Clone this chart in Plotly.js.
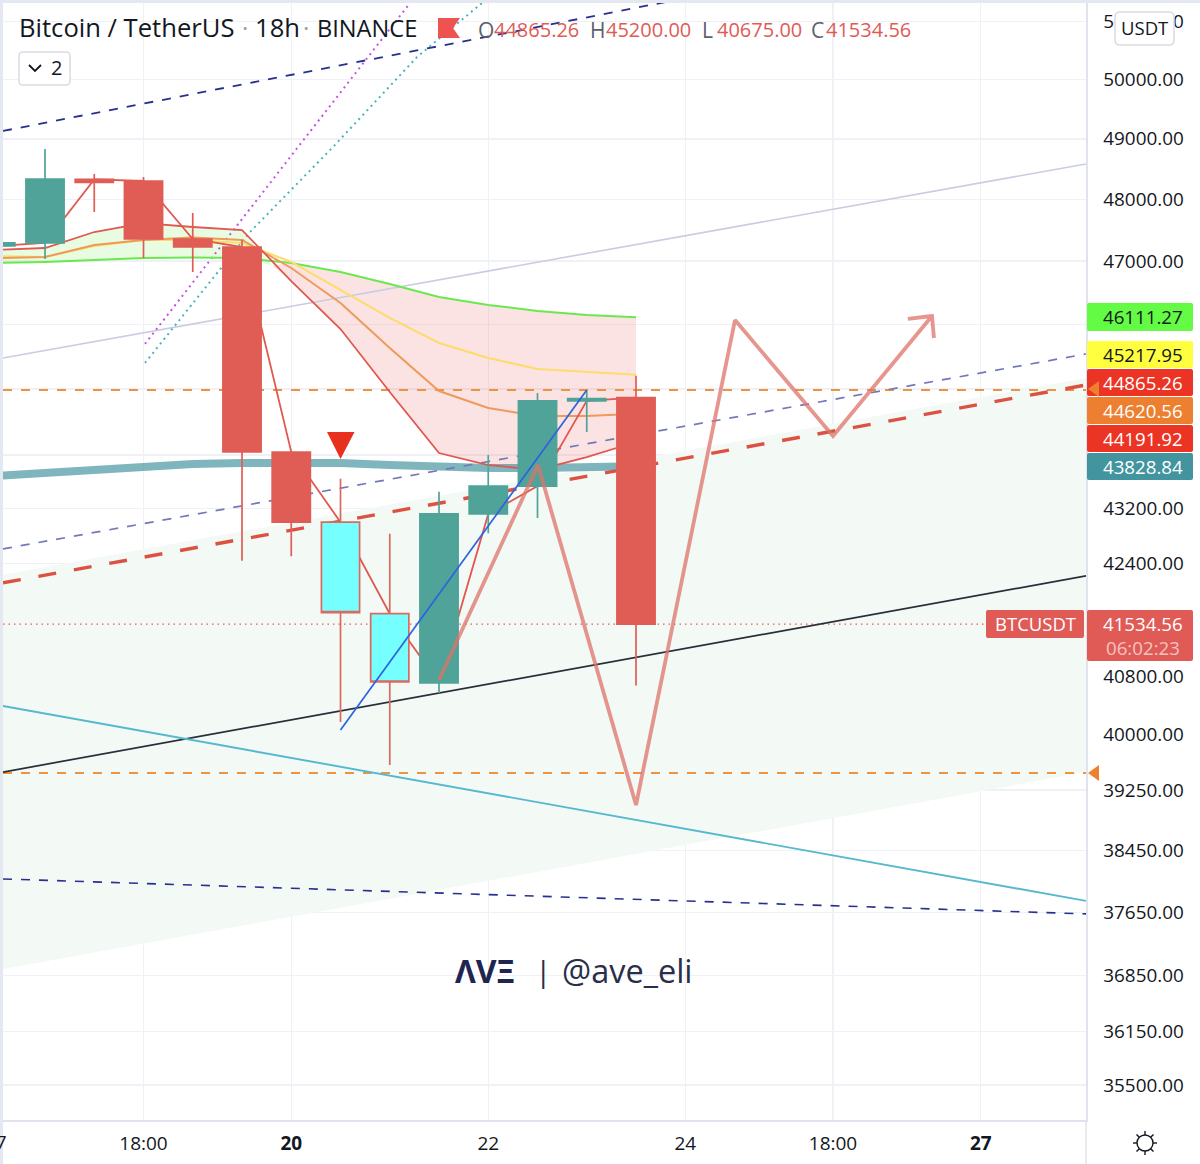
<!DOCTYPE html>
<html>
<head>
<meta charset="utf-8">
<script src="https://cdn.plot.ly/plotly-3.0.1.min.js"></script>
<style>html,body{margin:0;padding:0;background:#fff;overflow:hidden}#chart{width:1200px;height:1164px}</style>
</head>
<body>
<div id="chart"></div>
<script>
// ---- data (bar index, price) ----
const barIndex   = [-1,0,1,2,3,4,5,6,7,8,9,10,11,12];
const opens  = [47243,47292,48326,48301,47356,47227,44042,43001,41682,40709,43123,43533,44815,44865.26];
const highs  = [47292,48830,48417,48367,47777,47340,44042,43644,42833,43450,43998,44936,44966,45200];
const lows   = [47243,47034,47794,47050,46827,42439,42506,40173,39589,40570,42840,43064,44342,40675];
const closes = [47292,48334,48277,47356,47227,44042,43001,41696,40723,43123,43533,44815,44852,41534.56];
const cyanBars = [6,7];

const emaFast   = [47180,47211,47469,47614,47550,47501,46683,45926,44951,44026,43847,43773,43965,44191.92];
const emaMid    = [47050,47066,47259,47340,47381,47340,46891,46335,45630,44966,44707,44586,44586,44620.56];
const emaSlow   = [47082,47066,47243,47340,47340,47292,46987,46540,46100,45708,45475,45305,45259,45217.95];
const emaLong   = [46970,46987,47018,47050,47058,47050,46970,46827,46636,46430,46304,46210,46147,46111.27];
const maBand    = [43684,43728,43773,43833,43862,43877,43877,43877,43847,43818,43803,43803,43818,43828.84];
const crossIdx = 4.61, crossPrice = 46930;

const xL = -0.853, xR = 21.137;
const navyTopX = [xL,12.609],   navyTopY = [49131,51338];
const purpleX  = [2.03,7.411],  purpleY  = [45693,51320];
const tealDotX = [2.03,4.162,5.848,7.553,8.873],  tealDotY = [45398,47469,48864,50384,51320];
const lavX     = [xL,xR],       lavY     = [45475,48582];
const midDashX = [xL,xR],       midDashY = [42612,45537];
const redDashX = [xL,xR],       redDashY = [42122,45059];
const blackX   = [xL,xR],       blackY   = [39493,42222];
const aquaX    = [xL,xR],       aquaY    = [40391,37797];
const navyLowX = [xL,xR],       navyLowY = [38081,37630];
const levelHigh = 44982, levelLow = 39479, lastPrice = 41534.56;
const channelX = [xL,xR,xR,xL];
const channelY = [42237,45167,39493,36930];
const blueX = [6,11], blueY = [40064,44982];
const pathX = [8,10.01,12,14.01,16,18.01,17.52,18.01,18.05];
const pathY = [40752,43847,39052,46067,44282,46130,46084,46130,45786];
const signalX = [5.726,6.284,6,5.726], signalY = [44342,44342,43936,44342];

const xTickVals = [2,5,9,13,16,19];
const xTickText = ['18:00','<b>20</b>','22','24','18:00','<b>27</b>'];
const yTickVals = [51000,50000,49000,48000,47000,46000,45000,44000,43200,42400,41600,40800,40000,39250,38450,37650,36850,36150,35500];
const yTickHidden = [46000,45000,44000,41600];
const yRange = [Math.log10(35079),Math.log10(51320)];
const xRange = [xL,xR];

const tags = [
 ['46111.27',303,331,'#63fb43','#131722'],
 ['45217.95',341,368,'#ffff3f','#131722'],
 ['44865.26',369,396,'#ec3425','#ffffff'],
 ['44620.56',397,424,'#ed8030','#ffffff'],
 ['44191.92',425,452,'#ec3425','#ffffff'],
 ['43828.84',453,480,'#42949f','#ffffff']
];

// ---- helpers ----
const F = '"Open Sans", sans-serif';
const pw = 1083, ph = 1117;
const fx = x => (x-3)/pw, fy = y => 1-(y-3)/ph;
function note(x,y,text,size,color,anchor){
  return {xref:'paper',yref:'paper',x:fx(x),y:fy(y),text:text,showarrow:false,xanchor:anchor||'left',yanchor:'middle',
          font:{family:F,size:size,color:color||'#131722'},borderpad:0};
}
function rrect(x0,y0,x1,y1,r,fill,line){
  const P=(x,y)=>fx(x)+' '+fy(y), rx=r;
  const d='M'+P(x0+rx,y0)+' L'+P(x1-rx,y0)+' Q'+P(x1,y0)+' '+P(x1,y0+rx)+' L'+P(x1,y1-rx)+' Q'+P(x1,y1)+' '+P(x1-rx,y1)+
          ' L'+P(x0+rx,y1)+' Q'+P(x0,y1)+' '+P(x0,y1-rx)+' L'+P(x0,y0+rx)+' Q'+P(x0,y0)+' '+P(x0+rx,y0)+' Z';
  return {type:'path',xref:'paper',yref:'paper',path:d,fillcolor:fill,line:{color:line||fill,width:line?1.5:0},layer:'above'};
}
function poly(pts,fill,line,w){
  const d=pts.map((p,i)=>(i?'L':'M')+fx(p[0])+' '+fy(p[1])).join(' ')+(fill?' Z':'');
  return {type:'path',xref:'paper',yref:'paper',path:d,fillcolor:fill||'rgba(0,0,0,0)',line:{color:line||fill,width:line?(w||1.5):0},layer:'above'};
}
const ln = (x,y,color,width,dash,extra)=>Object.assign({x:x,y:y,type:'scatter',mode:'lines',hoverinfo:'skip',
             line:{color:color,width:width,dash:dash||'solid'}},extra||{});

// ---- traces ----
const idxLeft = barIndex.filter(i=>i<=4), idxRight = barIndex.filter(i=>i>=5);
const pos = i=>i+1;
const traces = [];
traces.push(ln(channelX,channelY,'rgba(0,0,0,0)',0,'solid',{fill:'toself',fillcolor:'#f3f9f5'}));
traces.push(ln(idxLeft.concat([crossIdx],idxLeft.slice().reverse()),
  idxLeft.map(i=>emaFast[pos(i)]).concat([crossPrice],idxLeft.slice().reverse().map(i=>emaLong[pos(i)])),
  'rgba(0,0,0,0)',0,'solid',{fill:'toself',fillcolor:'rgba(120,235,80,0.17)'}));
traces.push(ln([crossIdx].concat(idxRight,idxRight.slice().reverse()),
  [crossPrice].concat(idxRight.map(i=>emaLong[pos(i)]),idxRight.slice().reverse().map(i=>emaFast[pos(i)])),
  'rgba(0,0,0,0)',0,'solid',{fill:'toself',fillcolor:'rgba(236,90,90,0.17)'}));
traces.push(ln(lavX,lavY,'#c9cce2',1.6));
traces.push(ln(navyTopX,navyTopY,'#27308f',1.8,'9px,9px'));
traces.push(ln(navyLowX,navyLowY,'#27308f',1.6,'9px,9px'));
traces.push(ln(purpleX,purpleY,'#c452e6',2,'2px,4px'));
traces.push(ln(tealDotX,tealDotY,'#4bb3bd',2,'2px,4px'));
traces.push(ln(xRange,[lastPrice,lastPrice],'#dd5f58',1.4,'1.5px,4px'));
traces.push(ln(xRange,[levelHigh,levelHigh],'#ed9442',2,'9px,9px'));
traces.push(ln(xRange,[levelLow,levelLow],'#ed9442',2,'9px,9px'));
traces.push(ln(barIndex,maBand,'rgba(66,148,159,0.68)',8));
traces.push(ln(midDashX,midDashY,'#7279b8',1.7,'9px,9px'));
traces.push(ln(redDashX,redDashY,'#dc5142',3.4,'18px,18px'));
traces.push(ln(blackX,blackY,'#2a2e39',1.7));
traces.push(ln(aquaX,aquaY,'#55b8cf',1.9));
traces.push(ln(barIndex,emaLong,'#6ae84e',2));
traces.push(ln(barIndex,emaSlow,'#fcdc6a',2));
traces.push(ln(barIndex,emaMid,'#ed9a5a',2));
traces.push(ln(barIndex,emaFast,'#e0584f',1.8));
traces.push(ln(barIndex,opens,'#e0584f',1.8));
traces.push(ln(signalX,signalY,'rgba(0,0,0,0)',0,'solid',{fill:'toself',fillcolor:'#e8301e'}));

function candle(sel,fill,line){
  const k=barIndex.map((b,i)=>i).filter(sel);
  return {type:'candlestick',xaxis:'x2',yaxis:'y2',x:k.map(i=>barIndex[i]),open:k.map(i=>opens[i]),high:k.map(i=>highs[i]),
    low:k.map(i=>lows[i]),close:k.map(i=>closes[i]),whiskerwidth:0,hoverinfo:'skip',
    increasing:{line:{color:line,width:1.7},fillcolor:fill},decreasing:{line:{color:line,width:1.7},fillcolor:fill}};
}
const isCyan = i=>cyanBars.includes(barIndex[i]);
traces.push(candle(i=>closes[i]>opens[i],'#50a398','#50a398'));
traces.push(candle(i=>closes[i]<opens[i]&&!isCyan(i),'#e05d56','#e05d56'));
traces.push(candle(i=>isCyan(i),'#76ffff','#d96a60'));

traces.push(ln(pathX,pathY,'rgba(222,115,105,0.75)',3.8,'solid',{xaxis:'x3',yaxis:'y3'}));
traces.push(ln(blueX,blueY,'#2f62e0',1.7,'solid',{xaxis:'x3',yaxis:'y3'}));

// ---- chrome ----
const chrome = '#e0e3eb';
const shapes = [
  poly([[0,0],[3,0],[3,1164],[0,1164]],'#e4e8f1'),
  poly([[0,0],[1200,0],[1200,3],[0,3]],'#e4e8f1'),
  poly([[1086,1120],[1086,1164]],null,chrome,1.5),
  poly([[438,18],[460,18],[453,28],[460,38],[438,38]],'#ef5350'),
  rrect(19,52,70,85,4,'#ffffff','#d9dce4'),
  poly([[29,65],[35,71],[41,65]],null,'#131722',1.8),
  rrect(1115,12,1174,45,5,'#ffffff','#d9dce4')
];
tags.forEach(t=>shapes.push(rrect(1087,t[1],1193,t[2],2,t[3])));
shapes.push(rrect(986,610,1084,638,2,'#e05b56'));
shapes.push(rrect(1087,610,1193,661,2,'#e05b56'));
shapes.push(poly([[1099,381],[1099,397],[1088,389]],'#ed8030'));
shapes.push(poly([[1099,765],[1099,781],[1088,773]],'#ed8030'));
// settings icon
shapes.push({type:'circle',xref:'paper',yref:'paper',x0:fx(1137),x1:fx(1153),y0:fy(1151),y1:fy(1135),fillcolor:'rgba(0,0,0,0)',line:{color:'#131722',width:1.4},layer:'above'});
for(let a=0;a<8;a++){const c=Math.cos(a*Math.PI/4),s=Math.sin(a*Math.PI/4);
  shapes.push(poly([[1145+c*8,1143+s*8],[1145+c*12,1143+s*12]],null,'#131722',1.4));}

const annotations = [
  note(18,28,'Bitcoin / TetherUS',25.6),
  note(245,28,'·',24,'#9aa0ac','center'),
  note(254,28,'18h',25.6),
  note(306,28,'·',24,'#9aa0ac','center'),
  note(316,28,'BINANCE',23.6),
  note(477,30,'O',21,'#5d606b'), note(493,30,'44865.26',20,'#e05b56'),
  note(589,30,'H',21,'#5d606b'), note(605,30,'45200.00',20,'#e05b56'),
  note(701,30,'L',21,'#5d606b'), note(716,30,'40675.00',20,'#e05b56'),
  note(810,30,'C',21,'#5d606b'), note(825,30,'41534.56',20,'#e05b56'),
  note(56,68,'2',20,'#131722','center'),
  note(1144,27,'USDT',18.5,'#131722','center'),
  note(-4,1142,'17',19,'#131722','center'),
  note(454,970,'<b>ΛVΞ</b>',32,'#1e2550'),
  note(543,970,'|',30,'#2a2e4a','center'),
  note(561,970,'@ave_eli',32.5,'#2a2e4a'),
  note(1035,623,'BTCUSDT',18.5,'#ffffff','center'),
  note(1143,623,'41534.56',18.7,'#ffffff','center'),
  note(1143,647,'06:02:23',18.7,'rgba(255,255,255,0.65)','center')
];
tags.forEach(t=>annotations.push(note(1143,(t[1]+t[2])/2-0.5,t[0],18.7,t[4],'center')));

const hiddenAxis = (ov,extra)=>Object.assign({overlaying:ov,visible:false,showgrid:false,zeroline:false,fixedrange:true},extra);
const layout = {
  width:1200,height:1164,margin:{l:3,r:114,t:3,b:44,pad:0},
  paper_bgcolor:'#ffffff',plot_bgcolor:'#ffffff',showlegend:false,hovermode:false,dragmode:false,boxgap:0.225,boxgroupgap:0,
  font:{family:F,color:'#131722'},
  xaxis:{type:'linear',range:xRange,tickmode:'array',tickvals:xTickVals,ticktext:xTickText,showgrid:true,gridcolor:'#eff1f6',gridwidth:1.3,
    zeroline:false,showline:true,linecolor:chrome,linewidth:1.5,ticks:'',ticklabelstandoff:6,tickfont:{family:F,size:19,color:'#131722'},fixedrange:true,rangeslider:{visible:false}},
  yaxis:{type:'log',range:yRange,side:'right',tickmode:'array',tickvals:yTickVals,
    ticktext:yTickVals.map(v=>yTickHidden.includes(v)?'':v.toFixed(2)),showgrid:true,gridcolor:'#eff1f6',gridwidth:1.5,
    zeroline:false,showline:true,linecolor:chrome,linewidth:1.5,ticks:'',ticklabelstandoff:12,tickfont:{family:F,size:18.9,color:'#131722'},fixedrange:true},
  xaxis2:hiddenAxis('x',{range:xRange,type:'linear',anchor:'y2',rangeslider:{visible:false}}),
  yaxis2:hiddenAxis('y',{range:yRange,type:'log',anchor:'x2',side:'right'}),
  xaxis3:hiddenAxis('x',{range:xRange,type:'linear',anchor:'y3'}),
  yaxis3:hiddenAxis('y',{range:yRange,type:'log',anchor:'x3',side:'right'}),
  shapes:shapes,annotations:annotations
};
Plotly.newPlot('chart',traces,layout,{displayModeBar:false,staticPlot:true,responsive:false});
</script>
</body>
</html>
